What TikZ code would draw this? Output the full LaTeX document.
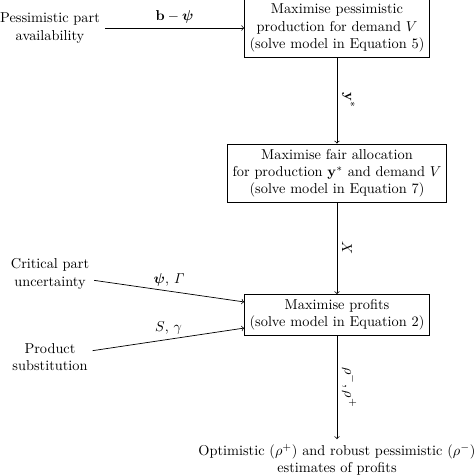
\documentclass[tikz,border=0pt]{standalone}
\usepackage{amsmath,bm}
\begin{document}
\begin{tikzpicture}[x=0.0245cm,y=-0.0245cm,
    stepbox/.style={draw,align=center,inner sep=3.5pt},
    source/.style={align=center},
    every path/.style={line width=0.5pt}]
  \useasboundingbox (0,0) rectangle (474,475);
  % sources on the left
  \node[source] (pess) at (50,28) {Pessimistic part\\availability};
  \node[source] (crit) at (50,274) {Critical part\\uncertainty};
  \node[source] (prod) at (50,357) {Product\\substitution};
  % the three models
  \node[stepbox] (prodmax) at (337,28)
    {Maximise pessimistic\\production for demand $V$\\(solve model in Equation 5)};
  \node[stepbox] (fair) at (337,173)
    {Maximise fair allocation\\for production $\mathbf{y}^*$ and demand $V$\\(solve model in Equation 7)};
  \node[stepbox] (profit) at (337,315)
    {Maximise profits\\(solve model in Equation 2)};
  \node[source] (est) at (337,460)
    {Optimistic ($\rho^+$) and robust pessimistic ($\rho^-$)\\estimates of profits};
  % flows
  \draw[->] (pess.east |- prodmax.west) -- node[above] {$\mathbf{b}-\bm{\psi}$} (prodmax.west);
  \draw[->] (prodmax) -- node[above,sloped] {$\mathbf{y}^*$} (fair);
  \draw[->] (fair) -- node[above,sloped] {$X$} (profit);
  \draw[->] (crit) -- node[above] {$\bm{\psi}$, $\mathit{\Gamma}$} ([yshift=0.32cm]profit.west);
  \draw[->] (prod) -- node[above] {$S$, $\gamma$} ([yshift=-0.32cm]profit.west);
  \draw[->] (profit) -- node[above,sloped] {$\rho^-, \rho^+$} (est);
\end{tikzpicture}
\end{document}
